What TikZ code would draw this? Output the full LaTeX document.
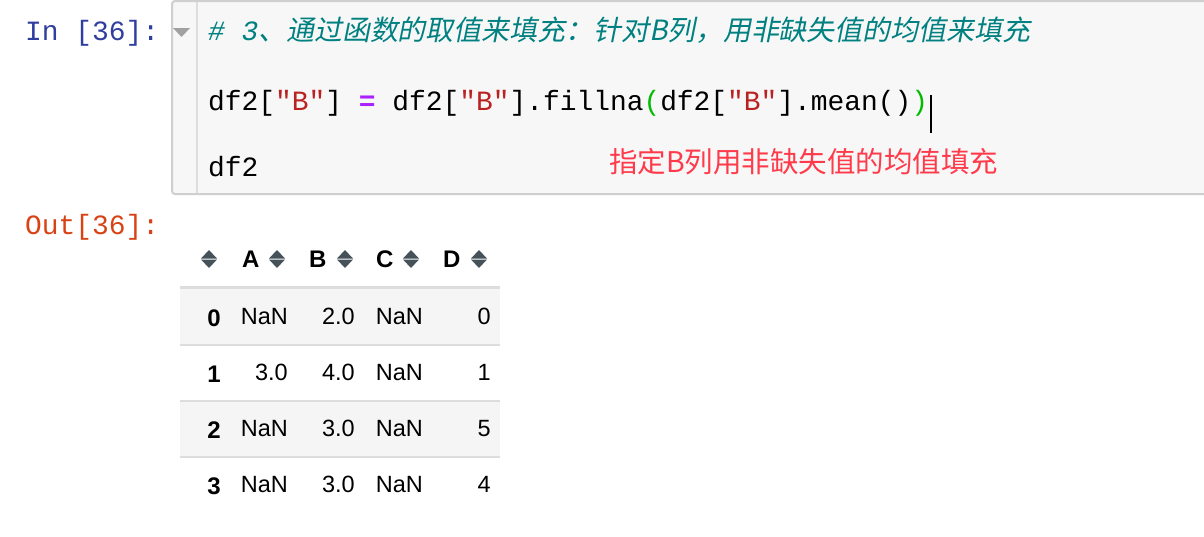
\documentclass[tikz,border=0pt]{standalone}
\usepackage{fontspec}
\usepackage{tikz}
\setmainfont{Liberation Sans}
\setmonofont{Liberation Mono}
\newfontfamily\cjk{Noto Sans CJK SC}
\newfontfamily\cjkslant[FakeSlant=0.2]{Noto Sans CJK SC}
\definecolor{inblue}{HTML}{303F9F}
\definecolor{outred}{HTML}{D84315}
\definecolor{cellgray}{HTML}{CFCFCF}
\definecolor{cellfill}{HTML}{F7F7F7}
\definecolor{rowfill}{HTML}{F5F5F5}
\definecolor{rowgray}{HTML}{DDDDDD}
\definecolor{comment}{HTML}{008080}
\definecolor{strred}{HTML}{BA2121}
\definecolor{oppurple}{HTML}{AA22FF}
\definecolor{parengreen}{HTML}{00BB00}
\definecolor{notered}{HTML}{FF3B4B}
\definecolor{iconc}{HTML}{45525A}
\tikzset{code/.style={
    anchor=base west,
    inner sep=0pt,
    font=\ttfamily\fontsize{27.9}{32}\selectfont}}
\tikzset{cellnum/.style={
    anchor=base east,
    inner sep=0pt,
    font=\fontsize{23.5}{28}\selectfont}}
\tikzset{rowhead/.style={
    cellnum,
    font=\bfseries\fontsize{24}{28}\selectfont}}
\tikzset{colhead/.style={
    anchor=base west,
    inner sep=0pt,
    font=\bfseries\fontsize{24}{28}\selectfont}}
\tikzset{rowline/.style={
    draw=rowgray,
    line width=1.5pt}}
\newcommand{\sortmark}[1]{%
  \fill[iconc] (#1-8,258.5) -- (#1+8,258.5) -- (#1,250) -- cycle;
  \fill[iconc] (#1-8,259.5) -- (#1+8,259.5) -- (#1,268) -- cycle;}

\begin{document}
\begin{tikzpicture}[x=1pt, y=-1pt]
  \useasboundingbox (0,0) rectangle (1204,536);

\fill[white] (0,0) rectangle (1204,536);

% input cell
\filldraw[
  draw=cellgray,
  fill=cellfill,
  line width=2pt,
  rounded corners=3pt] (172,1) rectangle (1230,194);
\draw[draw=rowgray, line width=1.5pt] (197,2) -- (197,193);
\fill[black!37] (173,28) -- (190,28) -- (181.5,37) -- cycle;
\draw[line width=1.5pt] (931,95) -- (931,133);

\node[code, text=inblue] (inprompt) at (25,40) {In [36]:};
\node[code, text=outred] (outprompt) at (25,234) {Out[36]:};

\node[code, text=comment] (comment) at (208,40)
  {\itshape \#\ 3{\cjkslant 、通过函数的取值来填充\symbol{"FF1A}针对B列\symbol{"FF0C}用非缺失值的均值来填充}};

\node[code] (fillline) at (208,110)
  {df2[\textcolor{strred}{"B"}] \textcolor{oppurple}{\bfseries =} df2[\textcolor{strred}{"B"}].fillna\textcolor{parengreen}{(}df2[\textcolor{strred}{"B"}].mean()\textcolor{parengreen}{)}};
\node[code] (showline) at (208,176) {df2};

\node[
  anchor=base west,
  inner sep=0pt,
  text=notered,
  font=\cjk\fontsize{28.5}{32}\selectfont] (note) at (609,172) {指定B列用非缺失值的均值填充};

% table
\fill[rowfill] (180,289) rectangle (500,345);
\fill[rowfill] (180,401) rectangle (500,457);
\draw[draw=rowgray, line width=3.5pt] (180,287.5) -- (500,287.5);
\draw[rowline] (180,345) -- (500,345);
\draw[rowline] (180,401) -- (500,401);
\draw[rowline] (180,457) -- (500,457);

\sortmark{209}
\sortmark{277}
\sortmark{345}
\sortmark{411}
\sortmark{479}

\node[colhead] (colA) at (242,267) {A};
\node[colhead] (colB) at (309,267) {B};
\node[colhead] (colC) at (376,267) {C};
\node[colhead] (colD) at (443,267) {D};

\node[rowhead] (row0) at (221,326) {0};
\node[cellnum] (a0) at (288,324) {NaN};
\node[cellnum] (b0) at (355,324) {2.0};
\node[cellnum] (c0) at (423,324) {NaN};
\node[cellnum] (d0) at (491,324) {0};

\node[rowhead] (row1) at (221,382) {1};
\node[cellnum] (a1) at (288,380) {3.0};
\node[cellnum] (b1) at (355,380) {4.0};
\node[cellnum] (c1) at (423,380) {NaN};
\node[cellnum] (d1) at (491,380) {1};

\node[rowhead] (row2) at (221,438) {2};
\node[cellnum] (a2) at (288,436) {NaN};
\node[cellnum] (b2) at (355,436) {3.0};
\node[cellnum] (c2) at (423,436) {NaN};
\node[cellnum] (d2) at (491,436) {5};

\node[rowhead] (row3) at (221,494) {3};
\node[cellnum] (a3) at (288,492) {NaN};
\node[cellnum] (b3) at (355,492) {3.0};
\node[cellnum] (c3) at (423,492) {NaN};
\node[cellnum] (d3) at (491,492) {4};

\end{tikzpicture}
\end{document}
